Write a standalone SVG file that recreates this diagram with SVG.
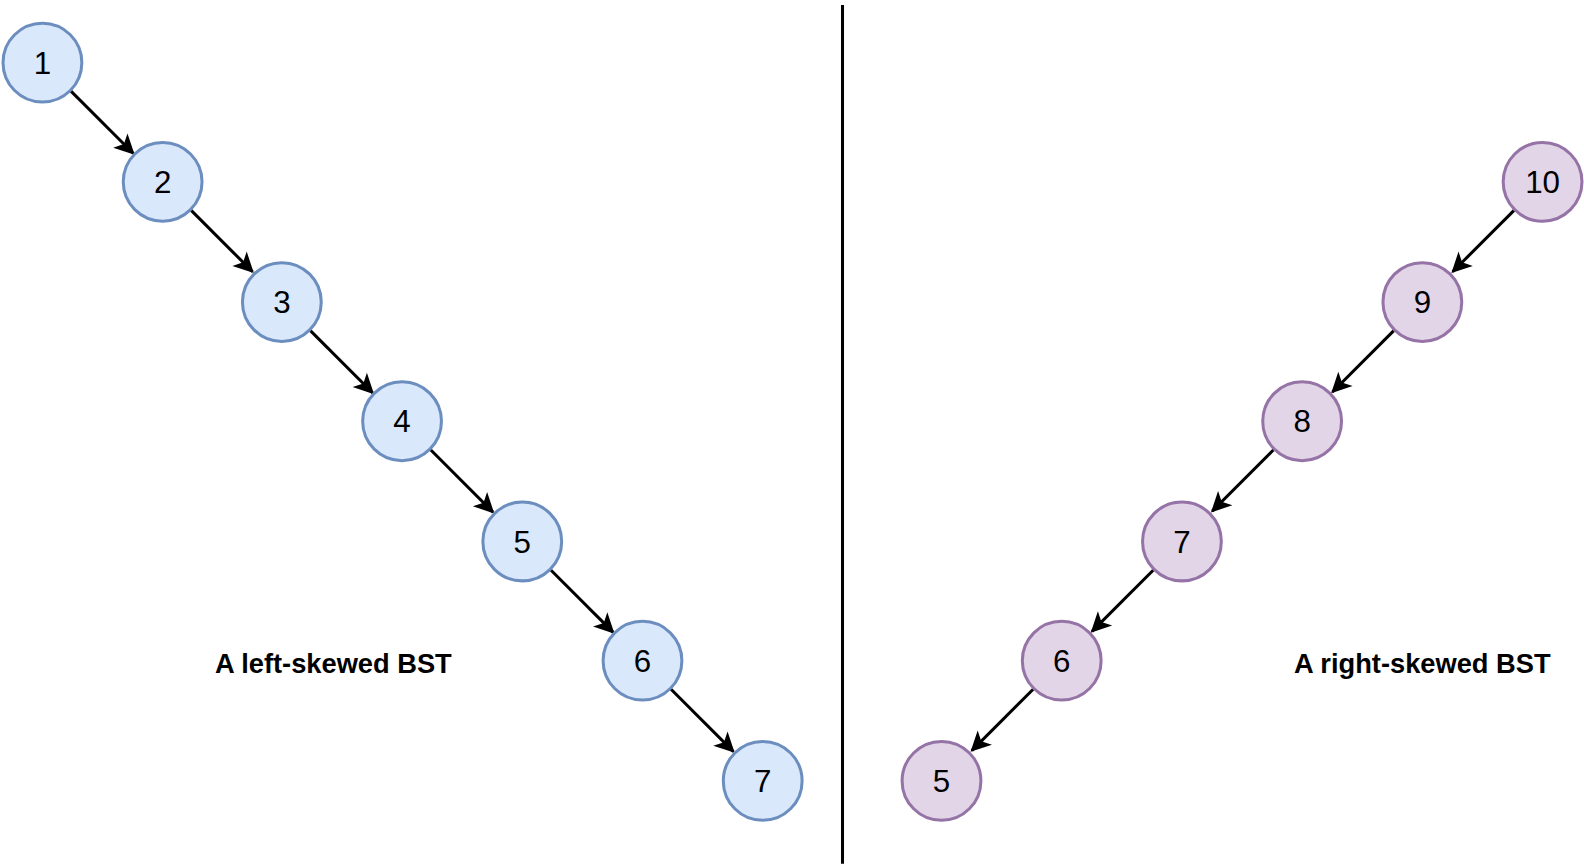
<svg xmlns="http://www.w3.org/2000/svg" width="1584" height="866" viewBox="0 0 1584 866">
<style>
.b circle{fill:#dae8fc;stroke:#6c8ebf;stroke-width:3}
.p circle{fill:#e1d5e7;stroke:#9673a6;stroke-width:3}
text{font-family:"Liberation Sans",Arial,sans-serif;text-anchor:middle}
.n{font-size:31px;fill:#000}
.l{font-size:27px;font-weight:bold}
#edges line{stroke:#000;stroke-width:3;marker-end:url(#a)}
</style>
<defs>
<marker id="a" viewBox="0 0 10 10" refX="9" refY="5" markerWidth="8" markerHeight="8" markerUnits="userSpaceOnUse" orient="auto" style="overflow:visible">
<path d="M0,0 L10,5 L0,10 L2.5,5 Z" fill="#000" transform="scale(2.5) translate(-5.5,-3)"/>
</marker>
</defs>
<rect width="1584" height="866" fill="#fff"/>
<g transform="scale(1.0102)">
<line x1="834" y1="5" x2="834" y2="855" stroke="#000" stroke-width="3"/>
<g id="edges">
<line x1="70" y1="90" x2="132" y2="152"/>
<line x1="189" y1="208" x2="250" y2="269"/>
<line x1="307" y1="327" x2="369" y2="389"/>
<line x1="426" y1="445" x2="488" y2="507"/>
<line x1="545" y1="564" x2="607" y2="626"/>
<line x1="664" y1="682" x2="726" y2="744"/>
<line x1="1499" y1="208" x2="1438" y2="269"/>
<line x1="1380" y1="327" x2="1319" y2="388"/>
<line x1="1261" y1="445" x2="1200" y2="506"/>
<line x1="1142" y1="564" x2="1081" y2="625"/>
<line x1="1023" y1="682" x2="962" y2="743"/>
</g>
<g id="L1" class="b"><circle cx="42" cy="62" r="39"/><text class="n" x="42" y="73">1</text></g>
<g id="L2" class="b"><circle cx="161" cy="180" r="39"/><text class="n" x="161" y="191">2</text></g>
<g id="L3" class="b"><circle cx="279" cy="299" r="39"/><text class="n" x="279" y="310">3</text></g>
<g id="L4" class="b"><circle cx="398" cy="417" r="39"/><text class="n" x="398" y="428">4</text></g>
<g id="L5" class="b"><circle cx="517" cy="536" r="39"/><text class="n" x="517" y="547">5</text></g>
<g id="L6" class="b"><circle cx="636" cy="654" r="39"/><text class="n" x="636" y="665">6</text></g>
<g id="L7" class="b"><circle cx="755" cy="773" r="39"/><text class="n" x="755" y="784">7</text></g>
<g id="R10" class="p"><circle cx="1527" cy="180" r="39"/><text class="n" x="1527" y="191">10</text></g>
<g id="R9" class="p"><circle cx="1408" cy="299" r="39"/><text class="n" x="1408" y="310">9</text></g>
<g id="R8" class="p"><circle cx="1289" cy="417" r="39"/><text class="n" x="1289" y="428">8</text></g>
<g id="R7" class="p"><circle cx="1170" cy="536" r="39"/><text class="n" x="1170" y="547">7</text></g>
<g id="R6" class="p"><circle cx="1051" cy="654" r="39"/><text class="n" x="1051" y="665">6</text></g>
<g id="R5" class="p"><circle cx="932" cy="773" r="39"/><text class="n" x="932" y="784">5</text></g>
<text class="l" x="330" y="666">A left-skewed BST</text>
<text class="l" x="1408" y="666">A right-skewed BST</text>
</g>
</svg>
